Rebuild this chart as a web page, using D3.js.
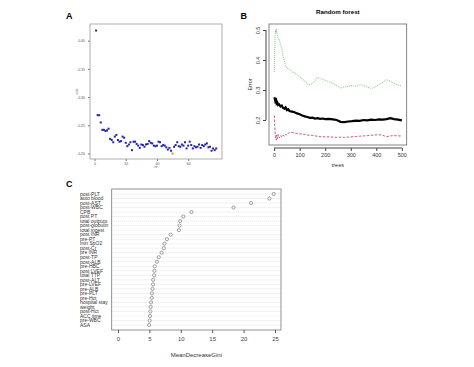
<!DOCTYPE html>
<html>
<head>
<meta charset="utf-8">
<script src="https://cdn.jsdelivr.net/npm/d3@7"></script>
<style>
  body { margin: 0; background: #fff; }
  svg { display: block; font-family: "Liberation Sans", Arial, sans-serif; }
</style>
</head>
<body>
<div id="container"></div>
<script>
// panel A: error for each mtry
const errA = [0.418, 0.268, 0.268, 0.255, 0.242, 0.242, 0.240, 0.241, 0.244, 0.226,
  0.224, 0.220, 0.230, 0.233, 0.224, 0.221, 0.222, 0.230, 0.228, 0.219,
  0.213, 0.216, 0.220, 0.206, 0.221, 0.221, 0.217, 0.214, 0.210, 0.216,
  0.215, 0.212, 0.216, 0.217, 0.222, 0.219, 0.218, 0.214, 0.213, 0.214,
  0.221, 0.220, 0.213, 0.215, 0.214, 0.211, 0.207, 0.210, 0.205, 0.200,
  0.212, 0.215, 0.220, 0.213, 0.212, 0.216, 0.214, 0.220, 0.209, 0.214,
  0.221, 0.215, 0.209, 0.213, 0.211, 0.212, 0.216, 0.210, 0.215, 0.213,
  0.216, 0.218, 0.211, 0.212, 0.205, 0.209, 0.206, 0.209];
const ticksAX = [0, 20, 40, 60];
const ticksAY = [0.20, 0.25, 0.30, 0.35, 0.40];

// panel B: error rate vs number of trees
const trees = [1, 3, 5, 8, 10, 13, 16, 20, 25, 30, 35, 40, 45, 50, 55, 60, 70, 80, 90, 100,
  110, 120, 130, 140, 150, 160, 170, 180, 190, 200, 215, 230, 245, 260, 275, 290, 305, 320, 335, 350,
  365, 380, 395, 410, 425, 440, 455, 470, 485, 500];
const errOOB = [0.276, 0.270, 0.262, 0.266, 0.255, 0.258, 0.250, 0.252, 0.245, 0.248,
  0.240, 0.238, 0.242, 0.233, 0.236, 0.230, 0.228, 0.226, 0.222, 0.219,
  0.215, 0.212, 0.210, 0.207, 0.208, 0.205, 0.206, 0.204, 0.205, 0.203,
  0.204, 0.202, 0.200, 0.194, 0.193, 0.195, 0.196, 0.198, 0.197, 0.200,
  0.199, 0.201, 0.200, 0.202, 0.201, 0.203, 0.206, 0.203, 0.201, 0.199];
const errClass1 = [0.215, 0.170, 0.145, 0.133, 0.150, 0.138, 0.152, 0.140, 0.148, 0.143,
  0.150, 0.145, 0.152, 0.150, 0.156, 0.158, 0.158, 0.157, 0.155, 0.154,
  0.153, 0.152, 0.150, 0.149, 0.149, 0.147, 0.146, 0.144, 0.145, 0.143,
  0.144, 0.143, 0.142, 0.143, 0.142, 0.143, 0.144, 0.145, 0.146, 0.147,
  0.148, 0.149, 0.150, 0.151, 0.149, 0.144, 0.147, 0.148, 0.147, 0.147];
const errClass2 = [0.360, 0.460, 0.500, 0.490, 0.505, 0.480, 0.470, 0.470, 0.450, 0.440,
  0.410, 0.400, 0.380, 0.375, 0.370, 0.370, 0.360, 0.358, 0.350, 0.345,
  0.335, 0.330, 0.320, 0.318, 0.322, 0.330, 0.342, 0.338, 0.336, 0.332,
  0.328, 0.322, 0.315, 0.306, 0.310, 0.312, 0.315, 0.312, 0.318, 0.315,
  0.310, 0.305, 0.310, 0.318, 0.325, 0.335, 0.328, 0.322, 0.316, 0.314];
const ticksBX = [0, 100, 200, 300, 400, 500];
const ticksBY = [0.2, 0.3, 0.4, 0.5];

// panel C: variable importance
const variables = ["post-PLT", "auto blood", "post-AST", "post-WBC", "CPB", "post PT",
  "total outputs", "post-globulin", "total ingest", "post INR", "pre-PT", "min SpO2",
  "post-Cr", "pre INR", "post-TP", "post-ALB", "pre-HBC", "post LVEF", "total TTP",
  "post-ALT", "pre-LVEF", "pre-ALB", "pre-PLT", "pre-Hct", "hospital stay", "weight",
  "post-Hct", "ACC time", "pre-WBC", "ASA"];
const gini = [24.8, 24.1, 21.2, 18.4, 11.7, 10.4, 9.9, 9.8, 9.7, 8.4,
  7.8, 7.4, 7.3, 6.95, 6.5, 6.2, 5.85, 5.8, 5.75, 5.6,
  5.58, 5.5, 5.4, 5.37, 5.27, 5.2, 5.15, 5.1, 5.05, 4.95];
const ticksCX = [0, 5, 10, 15, 20, 25];

main();

function main() {
  const width = 474;
  const height = 367;
  const svg = d3.select("#container").append("svg")
    .attr("width", width).attr("height", height);

  const letters = [["A", 66, 18.5], ["B", 240.5, 18.5], ["C", 66, 186.5]];
  svg.selectAll("text.letter").data(letters).join("text")
    .classed("letter", true)
    .attr("x", (d) => d[1]).attr("y", (d) => d[2])
    .attr("font-size", 9).attr("font-weight", 700)
    .text((d) => d[0]);

  renderA(svg.append("g"));
  renderB(svg.append("g"));
  renderC(svg.append("g"));
}

function renderA(root) {
  const box = { x0: 90, x1: 222, y0: 24, y1: 159 };
  const scaleX = d3.scaleLinear().domain([-2.9, 81.7]).range([box.x0, box.x1]);
  const scaleY = d3.scaleLinear().domain([0.1903, 0.4296]).range([box.y1, box.y0]);

  root.append("g")
    .attr("transform", `translate(0, ${box.y1})`)
    .call(d3.axisBottom(scaleX).tickValues(ticksAX).tickSize(2).tickSizeOuter(0))
    .call((g) => g.select(".domain").remove())
    .call((g) => g.selectAll("line").attr("stroke", "#777"))
    .call((g) => g.selectAll("text").attr("font-size", 3.5).attr("fill", "#555").attr("dy", "0.2em"));
  root.append("g")
    .attr("transform", `translate(${box.x0}, 0)`)
    .call(d3.axisLeft(scaleY).tickValues(ticksAY).tickFormat(d3.format(".2f")).tickSize(2).tickSizeOuter(0))
    .call((g) => g.select(".domain").remove())
    .call((g) => g.selectAll("line").attr("stroke", "#777"))
    .call((g) => g.selectAll("text").attr("font-size", 3.5).attr("fill", "#555"));

  root.append("rect")
    .attr("x", box.x0).attr("y", box.y0)
    .attr("width", box.x1 - box.x0).attr("height", box.y1 - box.y0)
    .attr("fill", "none").attr("stroke", "#999").attr("stroke-width", 0.8);

  const minErr = d3.min(errA);
  root.selectAll("rect.pt").data(errA).join("rect")
    .classed("pt", true)
    .attr("x", (d, i) => scaleX(i + 1) - 1)
    .attr("y", (d) => scaleY(d) - 1)
    .attr("width", 2).attr("height", 2)
    .attr("fill", (d) => (d === minErr ? "#e8902a" : "#2424a8"));

  root.append("text")
    .attr("x", (box.x0 + box.x1) / 2).attr("y", 167.5)
    .attr("text-anchor", "middle").attr("font-size", 3.5).attr("fill", "#555")
    .text("nt");
  root.append("text")
    .attr("transform", `translate(78, ${(box.y0 + box.y1) / 2}) rotate(-90)`)
    .attr("text-anchor", "middle").attr("font-size", 3.5).attr("fill", "#555")
    .text("oob");
}

function renderB(root) {
  const box = { x0: 269, x1: 406.7, y0: 24, y1: 145 };
  const scaleX = d3.scaleLinear().domain([-20, 519]).range([box.x0, box.x1]);
  const scaleY = d3.scaleLinear().domain([0.1167, 0.52]).range([box.y1, box.y0]);

  root.append("g")
    .attr("transform", `translate(0, ${box.y1 + 3})`)
    .call(d3.axisBottom(scaleX).tickValues(ticksBX).tickSize(3).tickPadding(2))
    .call((g) => g.select(".domain").attr("stroke", "#444").attr("d", `M${scaleX(0)},0H${scaleX(500)}`))
    .call((g) => g.selectAll("line").attr("stroke", "#444"))
    .call((g) => g.selectAll("text").attr("font-size", 5.5).attr("fill", "#333"));
  const axisY = root.append("g")
    .attr("transform", `translate(${box.x0 - 3}, 0)`)
    .call(d3.axisLeft(scaleY).tickValues(ticksBY).tickFormat(d3.format(".1f")).tickSize(3))
    .call((g) => g.select(".domain").attr("stroke", "#444").attr("d", `M0,${scaleY(0.2)}V${scaleY(0.5)}`))
    .call((g) => g.selectAll("line").attr("stroke", "#444"));
  axisY.selectAll("text")
    .attr("font-size", 5.5).attr("fill", "#333")
    .attr("x", null).attr("dy", null)
    .attr("text-anchor", "middle")
    .attr("transform", "translate(-6.5, 0) rotate(-90)");

  root.append("rect")
    .attr("x", box.x0).attr("y", box.y0)
    .attr("width", box.x1 - box.x0).attr("height", box.y1 - box.y0)
    .attr("fill", "none").attr("stroke", "#666").attr("stroke-width", 0.8);

  const series = [
    { values: errClass2, color: "#93cf8d", width: 1.1, dash: "1,1" },
    { values: errClass1, color: "#d2557e", width: 1, dash: "2.5,1.5" },
    { values: errOOB, color: "#000", width: 2.2, dash: null },
  ];
  const line = d3.line()
    .x((d) => scaleX(d[0]))
    .y((d) => scaleY(d[1]));
  root.selectAll("path.err").data(series).join("path")
    .classed("err", true)
    .attr("d", (s) => line(trees.map((t, i) => [t, s.values[i]])))
    .attr("fill", "none")
    .attr("stroke", (s) => s.color)
    .attr("stroke-width", (s) => s.width)
    .attr("stroke-dasharray", (s) => s.dash);

  root.append("text")
    .attr("x", (box.x0 + box.x1) / 2).attr("y", 13.5)
    .attr("text-anchor", "middle").attr("font-size", 6.2).attr("font-weight", 700)
    .text("Random forest");
  root.append("text")
    .attr("x", (box.x0 + box.x1) / 2).attr("y", 167)
    .attr("text-anchor", "middle").attr("font-size", 5.5).attr("fill", "#333")
    .text("trees");
  root.append("text")
    .attr("transform", `translate(252, ${(box.y0 + box.y1) / 2}) rotate(-90)`)
    .attr("text-anchor", "middle").attr("font-size", 5.5).attr("fill", "#333")
    .text("Error");
}

function renderC(root) {
  const box = { x0: 111.7, x1: 281, y0: 189, y1: 330 };
  const scaleX = d3.scaleLinear().domain([-1, 25.96]).range([box.x0, box.x1]);
  const scaleY = d3.scalePoint().domain(variables).range([194, 325]);

  root.selectAll("line.grid").data(variables).join("line")
    .classed("grid", true)
    .attr("x1", box.x0).attr("x2", box.x1)
    .attr("y1", (d) => scaleY(d)).attr("y2", (d) => scaleY(d))
    .attr("stroke", "#d4d4d4").attr("stroke-width", 0.6)
    .attr("stroke-dasharray", "1,1");

  root.append("rect")
    .attr("x", box.x0).attr("y", box.y0)
    .attr("width", box.x1 - box.x0).attr("height", box.y1 - box.y0)
    .attr("fill", "none").attr("stroke", "#777").attr("stroke-width", 0.8);

  root.selectAll("circle").data(variables).join("circle")
    .attr("cx", (d, i) => scaleX(gini[i]))
    .attr("cy", (d) => scaleY(d))
    .attr("r", 1.6)
    .attr("fill", "none").attr("stroke", "#666").attr("stroke-width", 0.6);

  root.selectAll("text.var").data(variables).join("text")
    .classed("var", true)
    .attr("x", 80).attr("y", (d) => scaleY(d))
    .attr("dy", "0.35em")
    .attr("font-size", 5).attr("fill", "#333")
    .text((d) => d);

  root.append("g")
    .attr("transform", `translate(0, ${box.y1})`)
    .call(d3.axisBottom(scaleX).tickValues(ticksCX).tickSize(3).tickPadding(4))
    .call((g) => g.select(".domain").remove())
    .call((g) => g.selectAll("line").attr("stroke", "#555"))
    .call((g) => g.selectAll("text").attr("font-size", 6).attr("fill", "#444"));

  root.append("text")
    .attr("x", (box.x0 + box.x1) / 2).attr("y", 357)
    .attr("text-anchor", "middle").attr("font-size", 6).attr("fill", "#333")
    .text("MeanDecreaseGini");
}
</script>
</body>
</html>
